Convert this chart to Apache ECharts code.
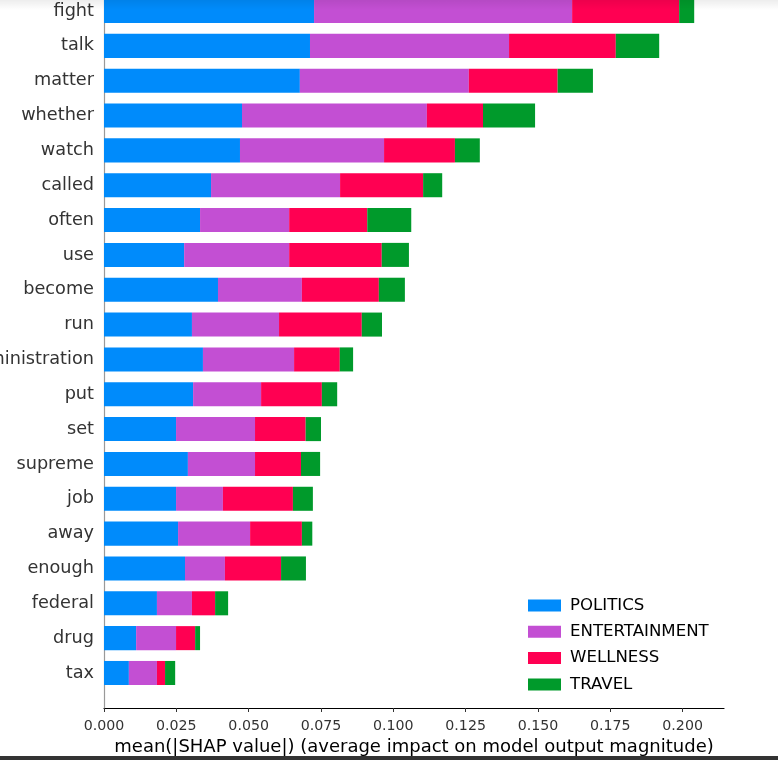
<!DOCTYPE html>
<html>
<head>
<meta charset="utf-8">
<title>SHAP summary</title>
<script src="https://cdn.jsdelivr.net/npm/echarts@6/dist/echarts.min.js"></script>
<style>
  html, body { margin: 0; padding: 0; background: #fff; }
  #chart { width: 778px; height: 760px; }
</style>
</head>
<body>
<div id="chart"></div>
<script>
// features, bottom to top (echarts puts the first category at the bottom)
var features = ['tax', 'drug', 'federal', 'enough', 'away', 'job', 'supreme', 'set', 'put',
  'administration', 'run', 'become', 'use', 'often', 'called', 'watch', 'whether', 'matter', 'talk', 'fight'];

var politics      = [0.0086, 0.0111, 0.0183, 0.0280, 0.0256, 0.0249, 0.0290, 0.0249, 0.0308,
  0.0342, 0.0304, 0.0394, 0.0277, 0.0332, 0.0370, 0.0470, 0.0477, 0.0677, 0.0712, 0.0726];
var entertainment = [0.0097, 0.0138, 0.0121, 0.0138, 0.0249, 0.0162, 0.0232, 0.0273, 0.0235,
  0.0315, 0.0301, 0.0290, 0.0363, 0.0308, 0.0446, 0.0498, 0.0639, 0.0584, 0.0688, 0.0892];
var wellness      = [0.0028, 0.0066, 0.0080, 0.0194, 0.0179, 0.0242, 0.0159, 0.0175, 0.0210,
  0.0158, 0.0286, 0.0266, 0.0320, 0.0270, 0.0287, 0.0245, 0.0194, 0.0307, 0.0369, 0.0370];
var travel        = [0.0035, 0.0017, 0.0045, 0.0086, 0.0036, 0.0069, 0.0066, 0.0053, 0.0053,
  0.0046, 0.0070, 0.0090, 0.0094, 0.0152, 0.0066, 0.0086, 0.0180, 0.0122, 0.0150, 0.0052];

var xTicks = [0, 0.025, 0.05, 0.075, 0.1, 0.125, 0.15, 0.175, 0.2];

var classNames = ['POLITICS', 'ENTERTAINMENT', 'WELLNESS', 'TRAVEL'];
var colors = ['#008bfb', '#c34fd3', '#ff0052', '#009a2b'];
var values = [politics, entertainment, wellness, travel];

var font = 'DejaVu Sans';
var chart = echarts.init(document.getElementById('chart'));

var series = classNames.map(function (name, i) {
  return {
    name: name,
    type: 'bar',
    stack: 'total',
    barWidth: '69%',
    data: values[i],
    itemStyle: { color: colors[i] },
    emphasis: { disabled: true },
    animation: false
  };
});

var option = {
  backgroundColor: '#fff',
  animation: false,
  color: colors,
  grid: [
    { left: 104, right: 54, top: -6.4, bottom: 69.6, outerBoundsMode: 'none', containLabel: false },
    // only used for the full-height left spine
    { left: 104, right: 54, top: 0, bottom: 52, outerBoundsMode: 'none', containLabel: false }
  ],
  legend: {
    orient: 'vertical',
    left: 523,
    top: 592,
    icon: 'rect',
    itemWidth: 33,
    itemHeight: 12,
    itemGap: 9.3,
    selectedMode: false,
    data: classNames,
    textStyle: { fontFamily: font, fontSize: 16.6, lineHeight: 16, color: '#000', padding: [0, 0, 0, 4] }
  },
  xAxis: [
    {
      gridIndex: 0,
      type: 'value',
      min: 0,
      max: 0.2143,
      offset: 17.6,
      splitLine: { show: false },
      axisLine: { show: true, lineStyle: { color: '#000', width: 1.2 } },
      axisTick: { show: true, length: 4, lineStyle: { color: '#333' }, customValues: xTicks },
      axisLabel: {
        fontFamily: font, fontSize: 14.2, color: '#333', margin: 11,
        customValues: xTicks,
        formatter: function (v) { return v.toFixed(3); }
      },
      name: 'mean(|SHAP value|) (average impact on model output magnitude)',
      nameLocation: 'middle',
      nameGap: 29,
      nameTextStyle: { fontFamily: font, fontSize: 18, color: '#000' }
    },
    { gridIndex: 1, type: 'value', show: false, min: 0, max: 1 }
  ],
  yAxis: [
    {
      gridIndex: 0,
      type: 'category',
      data: features,
      axisLine: { show: false },
      axisTick: { show: false },
      splitLine: { show: false },
      axisLabel: { fontFamily: font, fontSize: 17.7, color: '#333', margin: 10, padding: [6, 0, 0, 0] }
    },
    {
      gridIndex: 1,
      type: 'value',
      min: 0,
      max: 1,
      axisLine: { show: true, lineStyle: { color: '#999', width: 1.2 } },
      axisTick: { show: false },
      axisLabel: { show: false },
      splitLine: { show: false }
    }
  ],
  graphic: [
    {
      type: 'rect', left: 0, top: 0, z: 100, silent: true,
      shape: { width: 778, height: 10 },
      style: {
        fill: new echarts.graphic.LinearGradient(0, 0, 0, 1, [
          { offset: 0, color: 'rgba(0,0,0,0.07)' },
          { offset: 1, color: 'rgba(0,0,0,0)' }
        ])
      }
    },
    {
      type: 'rect', left: 0, top: 756, z: 100, silent: true,
      shape: { width: 778, height: 4 },
      style: { fill: '#333' }
    }
  ],
  series: series
};

chart.setOption(option);
</script>
</body>
</html>
